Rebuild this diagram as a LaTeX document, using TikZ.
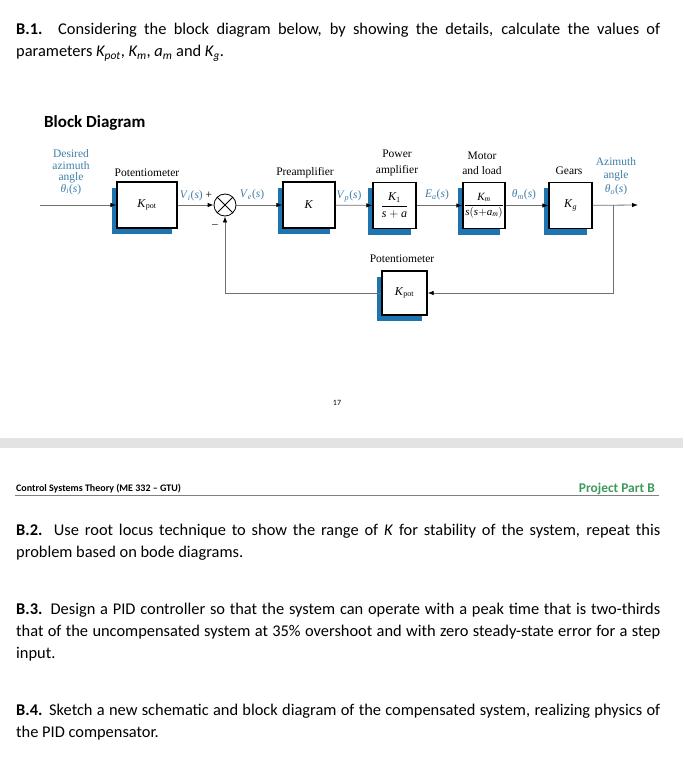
\documentclass[tikz,border=0pt]{standalone}
\usepackage{amsmath}
\usepackage{fontspec}
\setmainfont{Carlito}
\newfontfamily\timesf{Liberation Serif}
\usetikzlibrary{arrows.meta,positioning,shadows}

\definecolor{shadowblue}{HTML}{1E74AE}
\definecolor{labelblue}{HTML}{3D7EA6}
\definecolor{partgreen}{HTML}{3E9A5C}
\definecolor{wiregray}{HTML}{707070}

% signal name like V_i(s)
\newcommand{\sigof}[2]{\textit{#1}\textsubscript{\textit{#2}}(\textit{s})}

\tikzset{
  blk/.style={draw, line width=1.3pt, fill=white, inner sep=0pt,
    minimum height=46pt, font=\timesf\fontsize{12}{13}\selectfont,
    drop shadow={shadow xshift=-5pt, shadow yshift=-6pt, fill=shadowblue, opacity=1}},
  wire/.style={draw=wiregray, line width=0.8pt},
  sig/.style={wire, -{Latex[length=6pt,width=4.5pt,color=black]}},
  lbl/.style={font=\timesf\fontsize{11.5}{11.5}\selectfont, inner sep=0pt, align=center},
  sumj/.style={circle, draw, line width=0.8pt, minimum size=22pt, inner sep=0pt,
    path picture={\draw[line width=0.8pt]
      (path picture bounding box.north west) -- (path picture bounding box.south east)
      (path picture bounding box.north east) -- (path picture bounding box.south west);}},
  para/.style={anchor=base west, text width=644pt, align=justify, inner sep=0pt,
    font=\fontsize{16.4}{22}\selectfont},
}

\begin{document}
\begin{tikzpicture}[x=1pt, y=-1pt]
  \useasboundingbox (0,0) rectangle (683,759);

  % question B.1
  \node[para] (qone) at (16,35) {\textbf{B.1.} Considering the block diagram below, by showing the details, calculate the values of\linebreak
    parameters \textit{K\textsubscript{pot}}, \textit{K\textsubscript{m}}, \textit{a\textsubscript{m}} and \textit{K\textsubscript{g}}.};
  \node[anchor=base west, inner sep=0pt, font=\fontsize{17}{20}\selectfont\bfseries] (bdtitle) at (44,128) {Block Diagram};

  % forward path
  \coordinate (in) at (40,205);
  \node[blk, minimum width=60pt] (potin) at (147,205) {\textit{K}\textsubscript{pot}};
  \node[sumj] (sum) at (225,205) {};
  \node[blk, minimum width=52pt] (pre) at (309,205) {\textit{K}};
  \node[blk, minimum width=43pt] (pamp) at (394.5,205.5) {$\dfrac{\textit{K}_1}{\textit{s}+\textit{a}}$};
  \node[blk, minimum width=42pt, font=\timesf\fontsize{11}{12}\selectfont] (motor) at (484,205.5) {$\dfrac{\textit{K}_{\textit{m}}}{\textit{s}(\textit{s}{+}\textit{a}_{\textit{m}})}$};
  \node[blk, minimum width=43pt] (gears) at (570.5,205.5) {\textit{K}\textsubscript{\textit{g}}};
  \coordinate (out) at (638,205);
  \coordinate (tap) at (613,205);

  % feedback path
  \node[blk, minimum width=45pt, minimum height=44pt] (potfb) at (404.5,293) {\textit{K}\textsubscript{pot}};

  \draw[sig] (in) -- (potin);
  \draw[sig] (potin) -- (sum);
  \draw[sig] (sum) -- (pre);
  \draw[sig] (pre) -- (pamp);
  \draw[sig] (pamp) -- (motor);
  \draw[sig] (motor) -- (gears);
  \draw[sig] (gears) -- (out);
  \draw[sig] (tap) |- (potfb);
  \draw[sig] (potfb) -| (sum);

  % labels
  \node[lbl, labelblue] (desired) at (71,172) {Desired\\azimuth\\angle\\\sigof{θ}{i}};
  \node[lbl] (potinlbl) at (147,173) {Potentiometer};
  \node[lbl] (prelbl) at (305,173) {Preamplifier};
  \node[lbl, font=\timesf\fontsize{11.5}{15.5}\selectfont] (pamplbl) at (397,163) {Power\\amplifier};
  \node[lbl, font=\timesf\fontsize{11.5}{15.5}\selectfont] (motorlbl) at (482,163.5) {Motor\\and load};
  \node[lbl] (gearslbl) at (569,171) {Gears};
  \node[lbl, labelblue, font=\timesf\fontsize{11.5}{13.5}\selectfont] (azlbl) at (616,176) {Azimuth\\angle\\\sigof{θ}{o}};
  \node[lbl, labelblue] (vilbl) at (196,196) {\sigof{V}{i} \textcolor{black}{+}};
  \node[lbl, labelblue] (minus) at (215,226) {\textcolor{black}{\textendash}};
  \node[lbl, labelblue] (velbl) at (252,195) {\sigof{V}{e}};
  \node[lbl, labelblue] (vplbl) at (349,196) {\sigof{V}{p}};
  \node[lbl, labelblue] (ealbl) at (437,195) {\sigof{E}{a}};
  \node[lbl, labelblue] (thmlbl) at (524,195) {\sigof{θ}{m}};
  \node[lbl] (potfblbl) at (402,259) {Potentiometer};

  % page break
  \node[font=\fontsize{8}{9}\selectfont, inner sep=0pt] (pagenum) at (337,403) {17};
  \fill[gray!22] (0,438) rectangle (683,448);
  \node[anchor=base west, inner sep=0pt, font=\fontsize{10}{11}\selectfont\bfseries] (hdleft) at (16,491) {Control Systems Theory (ME 332 – GTU)};
  \node[anchor=base east, inner sep=0pt, font=\fontsize{13.4}{14}\selectfont\bfseries, partgreen] (hdright) at (655,492) {Project Part B};
  \draw[gray, line width=0.8pt] (15,495.5) -- (659,495.5);

  % questions B.2 - B.4
  \node[para] (qtwo) at (16,535) {\textbf{B.2.} Use root locus technique to show the range of \textit{K} for stability of the system, repeat this\linebreak
    problem based on bode diagrams.};
  \node[para] (qthree) at (16,614) {\textbf{B.3.} Design a PID controller so that the system can operate with a peak time that is two-thirds\linebreak
    that of the uncompensated system at 35\% overshoot and with zero steady-state error for a step\linebreak
    input.};
  \node[para] (qfour) at (16,715) {\textbf{B.4.} Sketch a new schematic and block diagram of the compensated system, realizing physics of\linebreak
    the PID compensator.};
\end{tikzpicture}
\end{document}
